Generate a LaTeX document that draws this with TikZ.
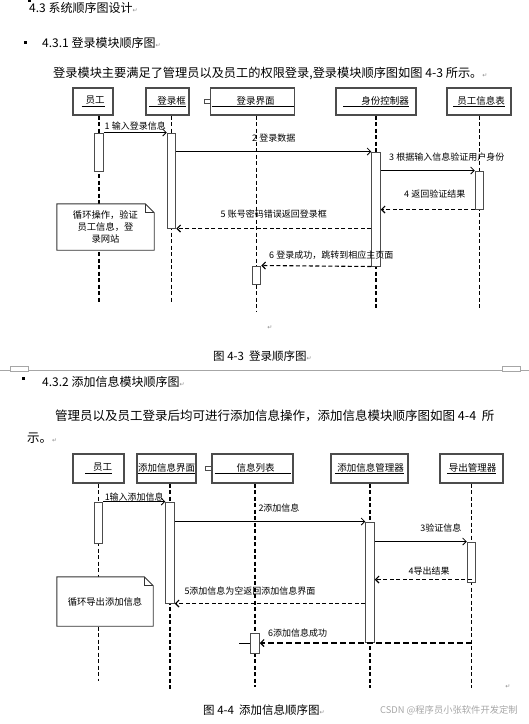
\documentclass[tikz,border=0pt]{standalone}
\usepackage{fontspec}
\newfontfamily\cjk{Noto Sans CJK SC}
\newfontfamily\sym{DejaVu Sans}
\usetikzlibrary{positioning,arrows.meta,backgrounds}

% paragraph mark and underlined object name
\newcommand\pmark{{\sym\color{black!45}\fontsize{6}{7}\selectfont ↵}}
\newcommand\uln[3]{\underline{\hspace{#1pt}#2\hspace{#3pt}}}

\tikzset{
  obj/.style={draw=black!70, line width=1.2pt, minimum height=27, inner sep=1pt,
    font=\cjk\fontsize{9.5}{10}\selectfont},
  act/.style={draw=black!70, fill=white, line width=1pt, minimum width=8.5, inner sep=0},
  life/.style={line width=1.2pt, dash pattern=on 4pt off 2.5pt},
  msg/.style={-{Straight Barb[length=3.5pt,width=7pt]}, line width=0.8pt},
  ret/.style={msg, line width=1.1pt, dash pattern=on 4pt off 2.5pt},
  lbl/.style={font=\cjk\fontsize{9}{10}\selectfont, inner sep=1pt},
  note/.style={fill=white, align=center, inner sep=0, font=\cjk\fontsize{9.3}{12}\selectfont},
  fold/.style={draw=black!80, line width=0.9pt},
  body/.style={anchor=west, inner sep=0, font=\cjk\fontsize{12.2}{14}\selectfont},
  head/.style={anchor=west, inner sep=0, font=\cjk\fontsize{12}{14}\selectfont},
}

\begin{document}
\begin{tikzpicture}[x=1pt,y=-1pt]
\useasboundingbox (0,0) rectangle (529,724);

%%% 正文
\fill (28,0) rectangle (31,2);
\node[head] (h43) at (29,8) {4.3 系统顺序图设计\pmark};
\fill (24,41) rectangle (27,44);
\node[head] (h431) at (42,43) {4.3.1 登录模块顺序图\pmark};
\node[body] (p1) at (53,73) {登录模块主要满足了管理员以及员工的权限登录,登录模块顺序图如图 4-3 所示。\pmark};

%%% 图 4-3
%% 对象
\node[obj, minimum width=40] (yg1) at (93,101.5) {\uln{4}{员工}{0}};
\node[obj, minimum width=43] (dlk) at (167.5,101.5) {\uln{8}{登录框}{0}};
\node[obj, minimum width=79] (dljm) at (252.5,101.5) {\uln{25}{登录界面}{19}};
\node[obj, minimum width=80] (sfkz) at (376,101.5) {\uln{18}{身份控制器}{0}};
\node[obj, minimum width=64] (ygxx) at (479,101.5) {\uln{4}{员工信息表}{0}};
\draw[draw=black!70, line width=0.8pt, fill=white] ([xshift=-6,yshift=-2]dljm.west) rectangle ([yshift=2]dljm.west);

%% 激活
\node[act, minimum height=38] (ayg1) at (99,152) {};
\node[act, minimum height=95] (adlk) at (171.5,180.5) {};
\node[act, minimum height=18] (adljm) at (256.5,275) {};
\node[act, minimum height=114] (asfkz) at (376,209) {};
\node[act, minimum height=38] (aygxx) at (479.5,190) {};

%% 生命线
\begin{scope}[on background layer]
\draw[life] (ayg1.north |- yg1.south) -- ++(0,187);
\draw[life] (adlk.north |- dlk.south) -- ++(0,187);
\draw[life] (adljm.north |- dljm.south) -- ++(0,196);
\draw[life] (asfkz.north |- sfkz.south) -- ++(0,193);
\draw[life] (aygxx.north |- ygxx.south) -- ++(0,193);
\end{scope}

%% 注释
\node[note, minimum width=97, minimum height=46] (n1) at (105.5,227) {循环操作，验证\\员工信息，登\\录网站};
\draw[fold] (n1.north west) -- ([xshift=-9]n1.north east) -- ([yshift=-9]n1.north east)
  -- (n1.south east) -- (n1.south west) -- cycle;
\draw[fold] ([xshift=-9]n1.north east) -- ([xshift=-9,yshift=-9]n1.north east) -- ([yshift=-9]n1.north east);

%% 消息
\draw[msg] (ayg1.north east) -- node[lbl, above=0.5pt] {1 输入登录信息} (adlk.north west);
\draw[msg] (adlk.east |- asfkz.north) -- node[lbl, above=7.5pt] {2 登录数据} (asfkz.north west);
\draw[msg] (asfkz.east |- aygxx.north) -- node[lbl, above=7.5pt, xshift=19] {3 根据输入信息验证用户身份} (aygxx.north west);
\draw[ret] (aygxx.south west) -- node[lbl, above=9.5pt, xshift=7] {4 返回验证结果} (asfkz.east |- aygxx.south);
\draw[ret] (asfkz.west |- adlk.south) -- node[lbl, above=8.5pt] {5 账号密码错误返回登录框} (adlk.south east);
\draw[ret] (asfkz.south west) -- node[lbl, above=4.5pt, xshift=15] {6 登录成功，跳转到相应主页面} (adljm.north east);

\node[inner sep=0] (rm1) at (270,328) {\pmark};
\node[head, font=\cjk\fontsize{11.5}{13}\selectfont] (cap1) at (213,356) {图 4-3\ \ 登录顺序图\pmark};

%%% 分隔线
\draw[black!35, line width=0.8pt] (0,370) -- (529,370);
\draw[black!35, line width=0.8pt, fill=white] (10,366.5) rectangle (28,371);
\draw[black!35, line width=0.8pt, fill=white] (502,366.5) rectangle (520,371);

\fill (22,377) rectangle (25,380);
\node[head] (h432) at (42,382) {4.3.2 添加信息模块顺序图\pmark};
\node[body, font=\cjk\fontsize{12.5}{14}\selectfont] (p2a) at (55,416) {管理员以及员工登录后均可进行添加信息操作，添加信息模块顺序图如图 4-4\ \ 所};
\node[body, font=\cjk\fontsize{12.5}{14}\selectfont] (p2b) at (27,438) {示。\pmark};

%%% 图 4-4
%% 对象
\node[obj, minimum width=51, minimum height=29] (yg2) at (98.5,468.5) {\uln{8}{员工}{0}};
\node[obj, minimum width=59, minimum height=29] (tjjm) at (166.5,468.5) {\uln{0}{添加信息界面}{0}};
\node[obj, minimum width=81, minimum height=29] (xxlb) at (252.5,468.5) {\uln{22}{信息列表}{16}};
\node[obj, minimum width=77, minimum height=29] (tjgl) at (369.5,468.5) {\uln{2}{添加信息管理器}{0}};
\node[obj, minimum width=63, minimum height=29] (dcgl) at (471.5,468.5) {\uln{2}{导出管理器}{0}};
\draw[draw=black!70, line width=0.8pt, fill=white] ([xshift=-6,yshift=-2]xxlb.west) rectangle ([yshift=2]xxlb.west);

%% 激活
\node[act, minimum height=41] (ayg2) at (98.5,522.5) {};
\node[act, minimum height=101] (atjjm) at (170,552.5) {};
\node[act, minimum height=20] (axxlb) at (255,643) {};
\node[act, minimum height=120] (atjgl) at (370,582) {};
\node[act, minimum height=40] (adcgl) at (471.5,562) {};

%% 生命线
\begin{scope}[on background layer]
\draw[life] (ayg2.north |- yg2.south) -- ++(0,197);
\draw[life] (atjjm.north |- tjjm.south) -- ++(0,207);
\draw[life] (axxlb.north |- xxlb.south) -- ++(0,203);
\draw[life] (atjgl.north |- tjgl.south) -- ++(0,204);
\draw[life] (adcgl.north |- dcgl.south) -- ++(0,204);
\end{scope}

%% 注释
\node[note, minimum width=96, minimum height=49] (n2) at (105,601.5) {循环导出添加信息};
\draw[fold] (n2.north west) -- ([xshift=-9]n2.north east) -- ([yshift=-9]n2.north east)
  -- (n2.south east) -- (n2.south west) -- cycle;
\draw[fold] ([xshift=-9]n2.north east) -- ([xshift=-9,yshift=-9]n2.north east) -- ([yshift=-9]n2.north east);

\draw[line width=0.8pt] (axxlb.west) -- ++(-11,0);

%% 消息
\draw[msg] (ayg2.north east) -- node[lbl, above=-1pt] {1输入添加信息} (atjjm.north west);
\draw[msg] (atjjm.east |- atjgl.north) -- node[lbl, above=7.5pt, xshift=9] {2添加信息} (atjgl.north west);
\draw[msg] (atjgl.east |- adcgl.north) -- node[lbl, above=7.5pt, xshift=20] {3验证信息} (adcgl.north west);
\draw[ret] ([yshift=3]adcgl.south) -- node[lbl, above=2.5pt, xshift=6] {4导出结果} ([yshift=3]atjgl.east |- adcgl.south);
\draw[ret] (atjgl.west |- atjjm.south) -- node[lbl, above=6.5pt, xshift=-20] {5添加信息为空返回添加信息界面} (atjjm.south east);
\draw[ret, dash pattern=on 6pt off 3pt] (adcgl.center |- axxlb.east) -- node[lbl, above=4.5pt, xshift=-68] {6添加信息成功} (axxlb.east);

\node[inner sep=0] (rm2) at (508,687) {\pmark};
\node[head, font=\cjk\fontsize{11.5}{13}\selectfont] (cap2) at (203,710) {图 4-4\ \ 添加信息顺序图\pmark};
\node[anchor=west, inner sep=0, text=black!35, font=\cjk\fontsize{9.3}{11}\selectfont] (wm) at (380,710) {CSDN @程序员小张软件开发定制};

\end{tikzpicture}
\end{document}
